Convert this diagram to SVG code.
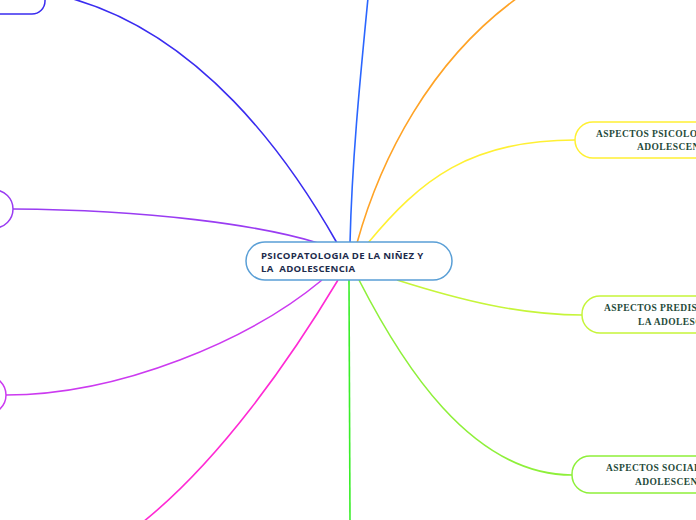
<svg xmlns="http://www.w3.org/2000/svg" width="696" height="520" viewBox="0 0 696 520">
<style>
.c{fill:none;stroke-width:1.6}
.n{fill:#fff;stroke-width:1.5}
.ct{font-family:"Open Sans","Liberation Sans",sans-serif;font-weight:bold;font-size:9.6px;fill:#1d2b4c;letter-spacing:0.3px;white-space:pre}
.st{font-family:"Liberation Serif",serif;font-weight:bold;font-size:9.5px;fill:#1f4a3a;letter-spacing:0.4px}
</style>
<rect width="696" height="520" fill="#fff"/>
<g id="connectors">
<path class="c" stroke="#3a2cf0" d="M337,243 C290,160 200,30 62,-4"/>
<path class="c" stroke="#2b66ff" d="M350,243 C352,160 360,80 368,-2"/>
<path class="c" stroke="#ffa326" d="M357,243 C380,160 430,60 520,-4"/>
<path class="c" stroke="#fff033" d="M368,243 C420,180 470,140 575,140"/>
<path class="c" stroke="#9a3cf2" d="M13,209 C150,210 260,225 318,243"/>
<path class="c" stroke="#cc3af0" d="M6,395 C120,395 250,340 322,280"/>
<path class="c" stroke="#ff2ad4" d="M338,280 C290,360 220,460 143,522"/>
<path class="c" stroke="#3aee2a" d="M349,280 L350,522"/>
<path class="c" stroke="#8ef03a" d="M359,280 C400,360 470,475 572,475"/>
<path class="c" stroke="#c6f53a" d="M397,280 C460,300 520,315 582,315"/>
</g>
<g id="node-center">
<rect class="n" x="246" y="242" width="206" height="38" rx="19" stroke="#5a9fd6"/>
<text class="ct" x="261" y="259" xml:space="preserve">PSICOPATOLOGIA DE LA NIÑEZ Y</text>
<text class="ct" x="261" y="272" xml:space="preserve">LA  ADOLESCENCIA</text>
</g>
<g id="node-topleft">
<rect class="n" x="-40" y="-30" width="85" height="44" rx="13" stroke="#3a2cf0"/>
</g>
<g id="node-left1">
<rect class="n" x="-40" y="190" width="53" height="38" rx="19" stroke="#9a3cf2"/>
</g>
<g id="node-left2">
<rect class="n" x="-40" y="376" width="46" height="38" rx="19" stroke="#cc3af0"/>
</g>
<g id="node-psico">
<rect class="n" x="575" y="122" width="160" height="36" rx="18" stroke="#fff033"/>
<text class="st" x="596" y="137">ASPECTOS PSICOLOG</text>
<text class="st" x="637" y="150">ADOLESCEN</text>
</g>
<g id="node-predis">
<rect class="n" x="582" y="296" width="160" height="37" rx="18" stroke="#c6f53a"/>
<text class="st" x="604" y="311">ASPECTOS PREDIS</text>
<text class="st" x="638" y="325">LA ADOLESC</text>
</g>
<g id="node-social">
<rect class="n" x="572" y="456" width="160" height="37" rx="18" stroke="#8ef03a"/>
<text class="st" x="606" y="471">ASPECTOS SOCIAL</text>
<text class="st" x="635" y="485">ADOLESCEN</text>
</g>
</svg>
